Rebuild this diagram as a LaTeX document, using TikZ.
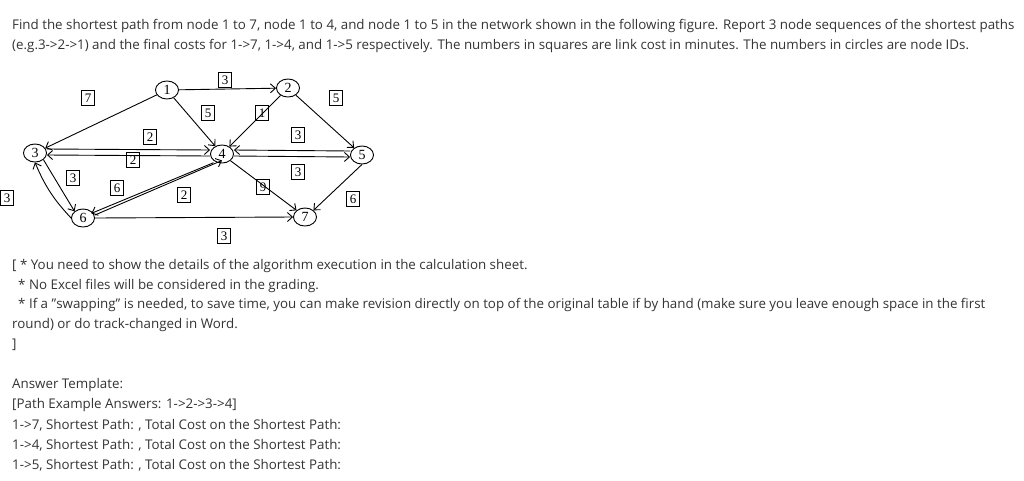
\documentclass[tikz,border=0pt]{standalone}
\usepackage{fontspec}
\setmainfont{Open Sans}
\newfontfamily\figfont{Liberation Serif}
\usetikzlibrary{arrows.meta,shapes.geometric}
\definecolor{txtc}{HTML}{333333}
\begin{document}
\begin{tikzpicture}[x=1pt,y=-1pt,
  txt/.style={anchor=west,inner sep=0pt,text=txtc,font=\fontsize{13.35}{15}\selectfont},
  nd/.style={draw,ellipse,minimum width=23pt,minimum height=18pt,inner sep=0pt,line width=0.9pt,font=\figfont\fontsize{14}{14}\selectfont},
  cost/.style={draw,inner sep=1pt,minimum width=13pt,minimum height=15pt,line width=0.9pt,font=\figfont\fontsize{13}{13}\selectfont},
  ed/.style={-{Straight Barb[length=5pt,width=9pt]},line width=0.9pt}]
\useasboundingbox (0,0) rectangle (1024,480);
\node[txt] (t1) at (12,26) {Find the shortest path from node 1 to 7, node 1 to 4, and node 1 to 5 in the network shown in the following figure. Report 3 node sequences of the shortest paths};
\node[txt] (t2) at (12,46) {(e.g.3->2->1) and the final costs for 1->7, 1->4, and 1->5 respectively. The numbers in squares are link cost in minutes. The numbers in circles are node IDs.};
\node[txt] (t3) at (12,266) {[ * You need to show the details of the algorithm execution in the calculation sheet.};
\node[txt] (t4) at (18,286) {* No Excel files will be considered in the grading.};
\node[txt] (t5) at (18,305) {* If a \symbol{34}swapping\symbol{34} is needed, to save time, you can make revision directly on top of the original table if by hand (make sure you leave enough space in the first};
\node[txt] (t6) at (12,325) {round) or do track-changed in Word.};
\node[txt] (t7) at (12,345) {]};
\node[txt] (t8) at (12,385) {Answer Template:};
\node[txt] (t9) at (12,405) {[Path Example Answers: 1->2->3->4]};
\node[txt] (t10) at (12,425) {1->7, Shortest Path: , Total Cost on the Shortest Path:};
\node[txt] (t11) at (12,445) {1->4, Shortest Path: , Total Cost on the Shortest Path:};
\node[txt] (t12) at (12,465) {1->5, Shortest Path: , Total Cost on the Shortest Path:};

\node[nd] (n1) at (167,90) {1};
\node[nd] (n2) at (288,88) {2};
\node[nd] (n3) at (35,153) {3};
\node[nd] (n4) at (222,154) {4};
\node[nd] (n5) at (362,155) {5};
\node[nd] (n6) at (83,218) {6};
\node[nd] (n7) at (305,217) {7};

\draw[ed] (n1) -- (n2);
\draw[ed] (n1) -- (n3);
\draw[ed] (n1) -- (n4);
\draw[ed] (n2) -- (n4);
\draw[ed] (n2) -- (n5);
\draw[ed] ([yshift=-2pt]n4.west) -- ([yshift=-2pt]n3.east);
\draw[ed] ([yshift=4pt]n3.east) -- ([yshift=4pt]n4.west);
\draw[ed] ([yshift=-2pt]n4.east) -- ([yshift=-2pt]n5.west);
\draw[ed] ([yshift=4pt]n5.west) -- ([yshift=4pt]n4.east);
\draw[ed] (n3.south east) -- (n6.north west);
\draw[ed] (n6.west) to[bend left=10] (n3.south);
\draw[ed] ([yshift=-2pt]n4.south west) -- ([yshift=-2pt]n6.north east);
\draw[ed] ([yshift=3pt]n6.east) -- ([yshift=3pt]n4.south);
\draw[ed] (n4.south east) -- (n7.north west);
\draw[ed] (n5.south) -- (n7.north east);
\draw[ed] (n6.east) -- (n7.west);

\node[cost] (c1) at (88,98) {7};
\node[cost] (c2) at (225,80) {3};
\node[cost] (c3) at (208,113) {5};
\node[cost] (c4) at (262,113) {1};
\node[cost] (c5) at (336,98) {5};
\node[cost] (c6) at (150,137) {2};
\node[cost] (c7) at (133,160) {2};
\node[cost] (c8) at (298,135) {3};
\node[cost] (c9) at (298,172) {3};
\node[cost] (c10) at (73,178) {3};
\node[cost] (c11) at (117,188) {6};
\node[cost] (c12) at (184,195) {2};
\node[cost] (c13) at (263,187) {9};
\node[cost] (c14) at (353,199) {6};
\node[cost] (c15) at (7,198) {3};
\node[cost] (c16) at (224,236) {3};
\end{tikzpicture}
\end{document}
